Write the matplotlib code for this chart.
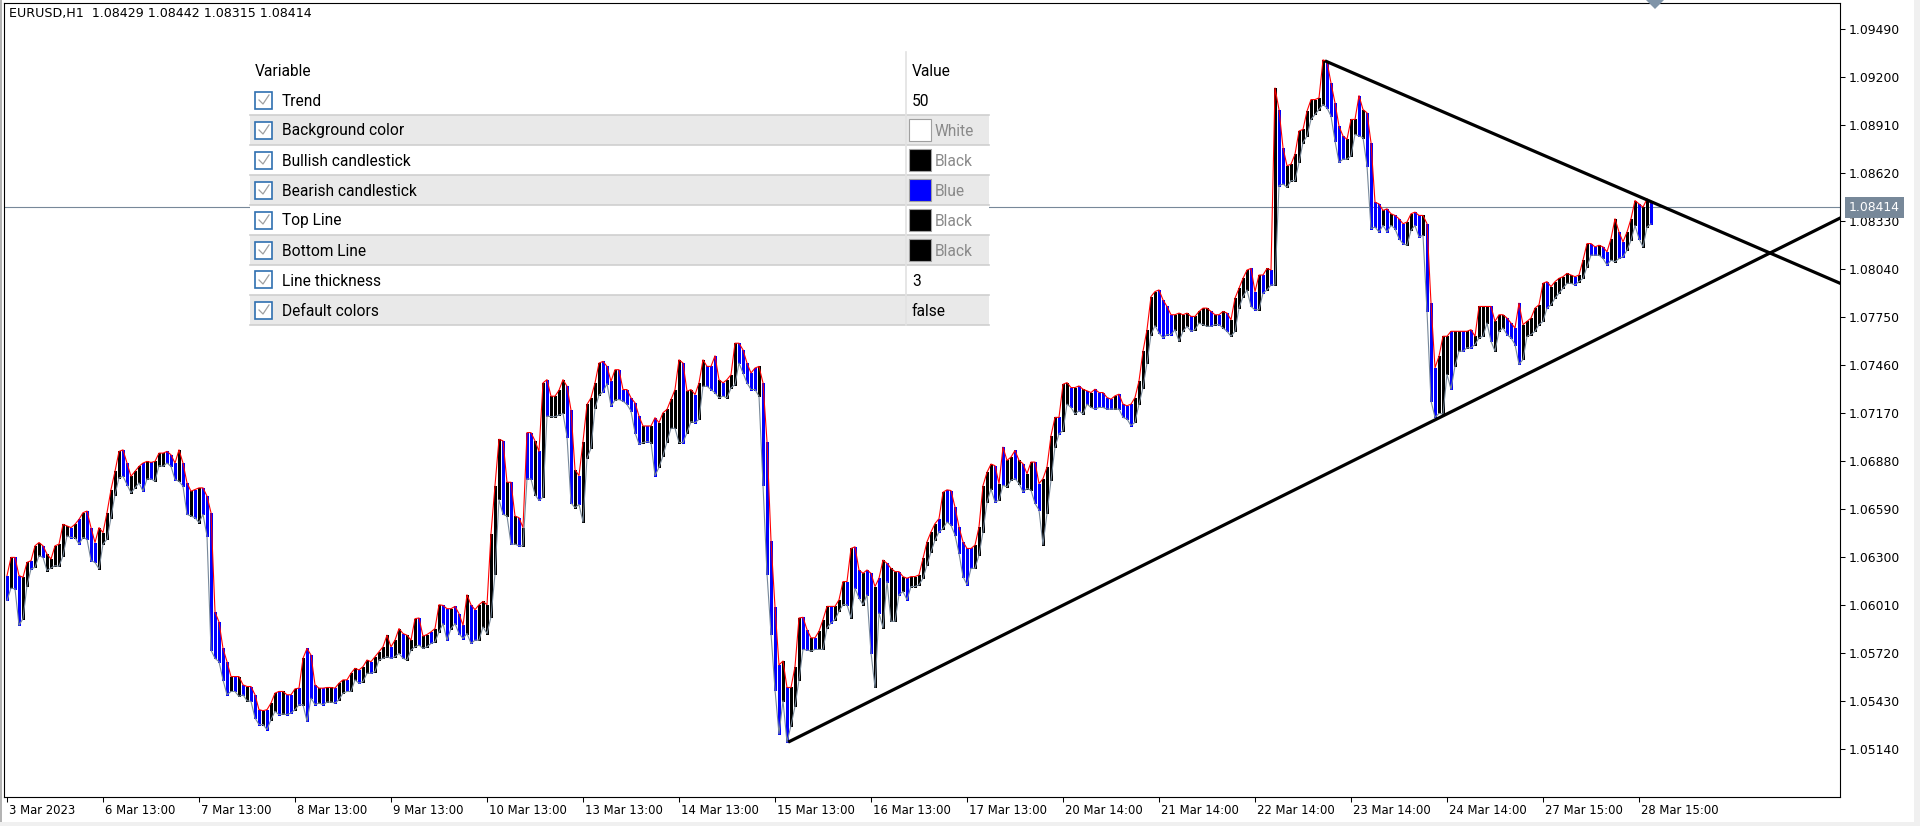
import numpy as np
import matplotlib
matplotlib.use("Agg")
import matplotlib.pyplot as plt
from matplotlib.patches import Rectangle, Polygon
from matplotlib.lines import Line2D
from matplotlib.transforms import ScaledTranslation, blended_transform_factory

# EURUSD H1 bars, values in points above 1.00000 (price = 1 + pts / 100000)
open_pts = [
    6154, 6130, 6230, 6180, 5980, 6160, 6260, 6250, 6356, 6360, 6230, 6260,
    6260, 6250, 6360, 6460, 6470, 6430, 6500, 6430, 6490, 6420, 6304, 6290,
    6396, 6420, 6550, 6690, 6790, 6940, 6860, 6734, 6750, 6770, 6824, 6790,
    6860, 6790, 6860, 6880, 6920, 6910, 6860, 6770, 6860, 6740, 6570, 6610,
    6570, 6710, 6570, 6490, 5860, 5740, 5690, 5580, 5520, 5530, 5490, 5520,
    5506, 5510, 5450, 5340, 5300, 5360, 5330, 5410, 5450, 5366, 5470, 5430,
    5390, 5480, 5420, 5580, 5540, 5490, 5440, 5470, 5460, 5476, 5446, 5450,
    5500, 5540, 5500, 5580, 5600, 5560, 5620, 5650, 5620, 5694, 5700, 5720,
    5750, 5710, 5740, 5760, 5700, 5770, 5784, 5924, 5764, 5804, 5830, 5814,
    5864, 6000, 5954, 5904, 5984, 5954, 5884, 5854, 5964, 5934, 5824, 5894,
    5904, 5954, 6234, 6674, 6884, 6594, 6694, 6434, 6444, 6384, 6934, 6924,
    6814, 6824, 6694, 7314, 7174, 7184, 7210, 7214, 7264, 7084, 6704, 6754,
    6644, 6974, 6994, 7234, 7334, 7454, 7444, 7344, 7300, 7314, 7284, 7274,
    7244, 7214, 7094, 7004, 7074, 7024, 6984, 6904, 7074, 7074, 7114, 7194,
    7074, 7364, 7074, 7184, 7218, 7184, 7334, 7434, 7434, 7334, 7314, 7324,
    7264, 7344, 7374, 7584, 7534, 7444, 7374, 7434, 7344, 7324, 6794, 6274,
    5884, 5584, 5464, 5494, 5344, 5434, 5584, 5874, 5814, 5744, 5784, 5784,
    5824, 5894, 5954, 5944, 5994, 6024, 6084, 6064, 6264, 6184, 6134, 6174,
    6134, 5894, 6134, 5934, 6224, 5934, 5924, 6164, 6154, 6138, 6124, 6134,
    6154, 6194, 6274, 6344, 6414, 6524, 6494, 6634, 6634, 6584, 6478, 6344,
    6304, 6344, 6264, 6344, 6474, 6684, 6734, 6814, 6666, 6886, 6746, 6860,
    6866, 6796, 6856, 6740, 6746, 6866, 6676, 6606, 6666, 6796, 7006, 7126,
    7086, 7276, 7316, 7196, 7326, 7206, 7286, 7226, 7276, 7276, 7276, 7236,
    7226, 7216, 7270, 7206, 7210, 7216, 7126, 7236, 7346, 7496, 7666, 7826,
    7856, 7806, 7776, 7726, 7716, 7746, 7686, 7730, 7736, 7696, 7736, 7716,
    7706, 7756, 7732, 7746, 7706, 7766, 7696, 7696, 7836, 7896, 7946, 8036,
    7856, 7846, 7996, 7966, 8026, 7966, 8826, 8676, 8566, 8596, 8596, 8706,
    8856, 8876, 8966, 9016, 9046, 9056, 9166, 9076, 9006, 8866, 8786, 8746,
    8776, 8876, 8926, 8846, 8966, 8696, 8426, 8406, 8326, 8336, 8326, 8356,
    8336, 8296, 8216, 8296, 8350, 8336, 8256, 8296, 7816, 7296, 7236, 7246,
    7446, 7596, 7516, 7586, 7626, 7622, 7636, 7616, 7666, 7666, 7786, 7796,
    7626, 7706, 7696, 7736, 7696, 7666, 7686, 7526, 7676, 7676, 7686, 7736,
    7746, 7906, 7876, 7886, 7926, 7946, 7976, 7986, 7986, 7986, 8006, 8076,
    8174, 8160, 8146, 8166, 8126, 8116, 8096, 8206, 8186, 8186, 8236, 8326,
    8406, 8246, 8326, 8429,
]
high_pts = [
    6190, 6300, 6300, 6190, 6180, 6270, 6280, 6370, 6390, 6370, 6320, 6290,
    6370, 6380, 6500, 6490, 6480, 6500, 6530, 6570, 6580, 6480, 6390, 6480,
    6450, 6570, 6710, 6820, 6940, 6950, 6870, 6790, 6820, 6850, 6870, 6880,
    6874, 6880, 6930, 6930, 6940, 6920, 6870, 6950, 6870, 6750, 6700, 6710,
    6720, 6720, 6670, 6570, 5970, 5910, 5750, 5670, 5580, 5580, 5580, 5530,
    5520, 5520, 5470, 5380, 5374, 5380, 5420, 5480, 5490, 5490, 5470, 5470,
    5506, 5510, 5690, 5750, 5710, 5530, 5510, 5510, 5514, 5514, 5510, 5540,
    5560, 5560, 5600, 5630, 5620, 5640, 5680, 5670, 5700, 5730, 5760, 5830,
    5760, 5800, 5870, 5840, 5830, 5800, 5930, 5934, 5824, 5834, 5850, 5870,
    6014, 6010, 5990, 5990, 6004, 5960, 5890, 6074, 6014, 5984, 6014, 6034,
    6014, 6444, 6734, 7014, 7004, 6754, 6754, 6550, 6540, 6480, 7054, 7054,
    7004, 6940, 7354, 7374, 7274, 7274, 7310, 7374, 7334, 7190, 6830, 6794,
    7000, 7224, 7264, 7354, 7474, 7484, 7454, 7364, 7434, 7434, 7314, 7314,
    7264, 7234, 7154, 7094, 7094, 7094, 7144, 7114, 7174, 7194, 7254, 7314,
    7494, 7474, 7304, 7314, 7284, 7354, 7494, 7454, 7454, 7518, 7374, 7354,
    7374, 7404, 7594, 7594, 7554, 7474, 7414, 7444, 7454, 7354, 7000, 6400,
    6000, 5650, 5674, 5514, 5514, 5640, 5934, 5938, 5864, 5814, 5814, 5854,
    5924, 6004, 6004, 6004, 6044, 6154, 6154, 6354, 6364, 6224, 6204, 6224,
    6204, 6124, 6174, 6284, 6264, 6234, 6214, 6214, 6184, 6174, 6184, 6184,
    6194, 6294, 6394, 6454, 6504, 6534, 6694, 6708, 6704, 6604, 6484, 6394,
    6354, 6354, 6374, 6484, 6734, 6814, 6864, 6854, 6746, 6966, 6886, 6906,
    6946, 6886, 6866, 6806, 6876, 6876, 6746, 6776, 6846, 7036, 7146, 7146,
    7346, 7356, 7326, 7326, 7336, 7316, 7306, 7296, 7316, 7296, 7296, 7266,
    7256, 7276, 7286, 7226, 7216, 7226, 7266, 7366, 7546, 7676, 7876, 7906,
    7916, 7856, 7816, 7766, 7766, 7776, 7766, 7776, 7756, 7756, 7786, 7806,
    7806, 7786, 7766, 7766, 7786, 7776, 7736, 7866, 7926, 7986, 8036, 8046,
    7906, 8006, 8006, 8046, 8036, 9136, 9006, 8776, 8666, 8676, 8736, 8876,
    8886, 8996, 9066, 9066, 9076, 9306, 9296, 9166, 9046, 8906, 8846, 8826,
    8946, 8946, 9090, 9006, 8986, 8806, 8446, 8436, 8396, 8406, 8376, 8366,
    8346, 8316, 8326, 8376, 8386, 8366, 8366, 8316, 7836, 7446, 7516, 7636,
    7636, 7666, 7666, 7666, 7666, 7666, 7676, 7636, 7816, 7816, 7816, 7816,
    7726, 7766, 7766, 7746, 7716, 7686, 7836, 7706, 7726, 7746, 7806, 7826,
    7956, 7966, 7936, 7966, 7986, 7996, 8016, 8006, 7996, 8006, 8096, 8196,
    8196, 8176, 8186, 8176, 8146, 8226, 8346, 8266, 8206, 8266, 8346, 8456,
    8436, 8416, 8466, 8442,
]
low_pts = [
    6040, 6114, 6110, 5890, 5930, 6130, 6230, 6240, 6310, 6300, 6220, 6236,
    6250, 6246, 6310, 6430, 6420, 6420, 6380, 6420, 6410, 6280, 6270, 6230,
    6380, 6410, 6540, 6680, 6780, 6790, 6740, 6690, 6720, 6750, 6700, 6774,
    6774, 6760, 6854, 6850, 6870, 6850, 6770, 6760, 6730, 6560, 6550, 6540,
    6510, 6560, 6430, 5740, 5690, 5670, 5560, 5470, 5490, 5490, 5460, 5470,
    5434, 5430, 5330, 5290, 5290, 5260, 5320, 5370, 5350, 5354, 5350, 5360,
    5380, 5410, 5410, 5310, 5450, 5410, 5420, 5410, 5426, 5426, 5420, 5440,
    5480, 5490, 5490, 5560, 5540, 5550, 5600, 5600, 5610, 5680, 5690, 5700,
    5690, 5700, 5720, 5690, 5680, 5740, 5760, 5770, 5750, 5760, 5780, 5790,
    5850, 5900, 5800, 5870, 5900, 5840, 5810, 5840, 5780, 5800, 5800, 5880,
    5840, 5940, 6200, 6650, 6560, 6550, 6380, 6380, 6370, 6370, 6774, 6774,
    6680, 6644, 6664, 7154, 7150, 7150, 7160, 7170, 7030, 6630, 6600, 6620,
    6514, 6900, 6960, 7200, 7280, 7300, 7350, 7214, 7250, 7254, 7244, 7224,
    7184, 7054, 6984, 6994, 7000, 6994, 6794, 6844, 6914, 7000, 7080, 7080,
    6994, 6994, 7054, 7120, 7114, 7134, 7334, 7334, 7314, 7294, 7264, 7274,
    7264, 7324, 7344, 7474, 7414, 7354, 7314, 7314, 7274, 6740, 6200, 5840,
    5500, 5234, 5434, 5184, 5284, 5400, 5560, 5744, 5740, 5734, 5744, 5744,
    5744, 5874, 5904, 5924, 5974, 6014, 6014, 5934, 6114, 6054, 6014, 6074,
    5724, 5514, 5964, 5874, 6154, 5914, 5914, 6074, 6094, 6044, 6124, 6124,
    6134, 6174, 6254, 6334, 6404, 6454, 6474, 6514, 6494, 6434, 6324, 6184,
    6134, 6234, 6234, 6314, 6454, 6634, 6714, 6634, 6646, 6736, 6726, 6766,
    6776, 6746, 6696, 6716, 6706, 6626, 6586, 6376, 6566, 6766, 6966, 7046,
    7066, 7226, 7206, 7166, 7186, 7166, 7226, 7206, 7196, 7206, 7206, 7196,
    7196, 7196, 7196, 7146, 7136, 7096, 7116, 7226, 7326, 7476, 7646, 7700,
    7656, 7626, 7646, 7646, 7676, 7606, 7666, 7696, 7666, 7676, 7716, 7706,
    7696, 7696, 7706, 7706, 7686, 7666, 7636, 7666, 7806, 7876, 7916, 7816,
    7796, 7796, 7896, 7916, 7946, 7946, 8546, 8556, 8536, 8576, 8576, 8686,
    8806, 8846, 8946, 8976, 9006, 9036, 9016, 8966, 8816, 8686, 8706, 8706,
    8726, 8856, 8846, 8836, 8666, 8286, 8296, 8266, 8306, 8266, 8306, 8286,
    8226, 8196, 8186, 8276, 8306, 8236, 8246, 7786, 7246, 7146, 7170, 7166,
    7406, 7316, 7456, 7546, 7546, 7566, 7566, 7586, 7626, 7636, 7716, 7606,
    7546, 7666, 7686, 7646, 7626, 7586, 7466, 7496, 7636, 7646, 7666, 7706,
    7726, 7806, 7826, 7866, 7896, 7926, 7956, 7956, 7946, 7966, 7986, 8056,
    8126, 8126, 8126, 8106, 8066, 8096, 8086, 8106, 8116, 8156, 8216, 8306,
    8226, 8176, 8296, 8315,
]
close_pts = [
    6130, 6230, 6140, 5980, 6170, 6260, 6246, 6360, 6366, 6330, 6270, 6262,
    6274, 6370, 6460, 6470, 6430, 6490, 6440, 6490, 6420, 6300, 6286, 6400,
    6430, 6560, 6690, 6800, 6920, 6850, 6790, 6770, 6780, 6840, 6814, 6860,
    6790, 6880, 6880, 6914, 6880, 6870, 6790, 6860, 6740, 6570, 6610, 6570,
    6700, 6570, 6490, 5860, 5730, 5680, 5580, 5520, 5534, 5500, 5520, 5490,
    5514, 5450, 5340, 5300, 5360, 5310, 5410, 5470, 5360, 5374, 5360, 5380,
    5490, 5420, 5630, 5490, 5460, 5460, 5454, 5430, 5480, 5484, 5434, 5500,
    5540, 5500, 5580, 5600, 5560, 5620, 5650, 5620, 5690, 5724, 5740, 5760,
    5710, 5760, 5760, 5700, 5760, 5784, 5914, 5824, 5804, 5824, 5820, 5864,
    6004, 5954, 5904, 5984, 5954, 5874, 5844, 5964, 5864, 5814, 5894, 5914,
    5964, 6234, 6674, 6884, 6594, 6694, 6434, 6444, 6374, 6394, 6814, 6814,
    6824, 6694, 7314, 7174, 7184, 7214, 7218, 7264, 7074, 6704, 6754, 6644,
    6974, 7004, 7234, 7334, 7444, 7384, 7404, 7294, 7310, 7284, 7274, 7234,
    7194, 7094, 7004, 7034, 7024, 7084, 6904, 7074, 7124, 7134, 7214, 7224,
    7364, 7074, 7184, 7218, 7184, 7334, 7434, 7424, 7334, 7314, 7324, 7294,
    7344, 7374, 7574, 7494, 7444, 7374, 7354, 7344, 7384, 6794, 6274, 5884,
    5584, 5474, 5494, 5344, 5434, 5584, 5874, 5814, 5774, 5774, 5764, 5834,
    5914, 5954, 5934, 5998, 6034, 6084, 6058, 6264, 6134, 6134, 6194, 6144,
    5884, 6084, 6014, 6284, 6194, 6214, 6134, 6134, 6174, 6124, 6134, 6164,
    6194, 6274, 6354, 6414, 6504, 6494, 6634, 6534, 6524, 6484, 6344, 6244,
    6264, 6264, 6354, 6474, 6684, 6734, 6814, 6654, 6716, 6756, 6866, 6870,
    6796, 6856, 6746, 6756, 6866, 6666, 6606, 6756, 6826, 7016, 7126, 7096,
    7316, 7316, 7256, 7306, 7206, 7296, 7276, 7286, 7216, 7226, 7226, 7216,
    7216, 7266, 7206, 7166, 7156, 7116, 7236, 7346, 7506, 7666, 7846, 7856,
    7796, 7766, 7726, 7706, 7736, 7756, 7736, 7736, 7696, 7736, 7766, 7756,
    7766, 7716, 7740, 7726, 7766, 7696, 7726, 7846, 7906, 7956, 8006, 7846,
    7846, 7986, 7946, 8036, 7966, 8826, 8666, 8606, 8596, 8606, 8716, 8856,
    8876, 8976, 9026, 9066, 9066, 9166, 9066, 9006, 8866, 8786, 8766, 8806,
    8936, 8926, 8906, 8966, 8696, 8426, 8386, 8326, 8336, 8326, 8366, 8326,
    8266, 8216, 8306, 8356, 8342, 8256, 8296, 7816, 7286, 7226, 7496, 7516,
    7586, 7516, 7626, 7626, 7586, 7630, 7606, 7624, 7716, 7796, 7796, 7626,
    7706, 7736, 7726, 7686, 7656, 7636, 7526, 7626, 7684, 7696, 7736, 7816,
    7856, 7846, 7916, 7936, 7956, 7976, 7986, 7994, 7976, 7996, 8076, 8176,
    8166, 8152, 8170, 8136, 8086, 8216, 8216, 8126, 8136, 8236, 8326, 8406,
    8256, 8336, 8456, 8414,
]

# x axis labels, one every 24 bars
date_tick_bars = [0, 24, 48, 72, 96, 120, 144, 168, 192, 216, 240, 264, 288, 312, 336, 360, 384, 408]
date_labels = ["3 Mar 2023", "6 Mar 13:00", "7 Mar 13:00", "8 Mar 13:00", "9 Mar 13:00",
               "10 Mar 13:00", "13 Mar 13:00", "14 Mar 13:00", "15 Mar 13:00", "16 Mar 13:00",
               "17 Mar 13:00", "20 Mar 14:00", "21 Mar 14:00", "22 Mar 14:00", "23 Mar 14:00",
               "24 Mar 14:00", "27 Mar 15:00", "28 Mar 15:00"]
price_ticks = [1.05140, 1.05430, 1.05720, 1.06010, 1.06300, 1.06590, 1.06880, 1.07170,
               1.07460, 1.07750, 1.08040, 1.08330, 1.08620, 1.08910, 1.09200, 1.09490]
bid_price = 1.08414
title = "EURUSD,H1  1.08429 1.08442 1.08315 1.08414"

# trend lines: two anchor points (bar index, price), drawn as rays
top_line_bars = [329.5, 413.25]
top_line_prices = [1.09300, 1.08426]
bottom_line_bars = [195.3, 412.25]
bottom_line_prices = [1.05184, 1.07796]

# inputs table
variables = ["Trend", "Background color", "Bullish candlestick", "Bearish candlestick",
             "Top Line", "Bottom Line", "Line thickness", "Default colors"]
values = ["50", "White", "Black", "Blue", "Black", "Black", "3", "false"]
swatches = [None, "#ffffff", "#000000", "#0000ff", "#000000", "#000000", None, None]

W, H = 1920, 826
fig = plt.figure(figsize=(W / 100, H / 100), dpi=100)
fig.patch.set_facecolor("white")


def fx(x):
    return x / W


def fy(y):
    return 1 - y / H


ax = fig.add_axes([fx(4), fy(797), fx(1840) - fx(4), fy(3) - fy(797)])

o = 1 + np.array(open_pts) / 1e5
h = 1 + np.array(high_pts) / 1e5
l = 1 + np.array(low_pts) / 1e5
c = 1 + np.array(close_pts) / 1e5
h = np.maximum(h, np.maximum(o, c))
l = np.minimum(l, np.minimum(o, c))
idx = np.arange(len(c))

cols = np.where(c >= o, "#000000", "#0000ff")
ax.vlines(idx, l, h, colors=cols, linewidth=0.75, antialiased=False, zorder=2)
body_lo = np.minimum(o, c)
body_h = np.maximum(np.abs(c - o), 0.00004)
ax.bar(idx, body_h, bottom=body_lo, width=0.75, color=cols, linewidth=0,
       antialiased=False, zorder=3)
ax.plot(idx, h, color="#ff0000", lw=0.8, zorder=4)
ax.plot(idx, l, color="#778899", lw=0.8, zorder=4)

ax.axhline(bid_price, color="#778899", lw=0.8, zorder=1)

xmin, xmax = -0.75, 458.25
for bars, prices in [(top_line_bars, top_line_prices), (bottom_line_bars, bottom_line_prices)]:
    slope = (prices[1] - prices[0]) / (bars[1] - bars[0])
    x_end = xmax + 5
    ax.plot([bars[0], x_end], [prices[0], prices[0] + slope * (x_end - bars[0])],
            color="black", lw=2.3, solid_capstyle="butt", zorder=5)

ax.set_xlim(xmin, xmax)
ax.set_ylim(1.048524, 1.096495)

for sp in ax.spines.values():
    sp.set_color("black")
    sp.set_linewidth(0.8)

ax.yaxis.tick_right()
ax.set_yticks(price_ticks)
ax.set_yticklabels(["%.5f" % p for p in price_ticks])
ax.tick_params(axis="y", direction="out", length=3.5, width=0.75, pad=3,
               labelsize=8.9, colors="black")
ax.set_xticks(date_tick_bars)
ax.set_xticklabels(date_labels, ha="left")
ax.tick_params(axis="x", direction="out", length=3.5, width=0.75, pad=1.5,
               labelsize=8.4, colors="black")
for lbl in ax.get_xticklabels():
    lbl.set_transform(lbl.get_transform() + ScaledTranslation(2 / 100, 0, fig.dpi_scale_trans))

# bid price label on the price scale
blend = blended_transform_factory(ax.transAxes, ax.transData)
ax.text(1.0, bid_price, "%.5f" % bid_price, transform=blend + ScaledTranslation(9 / 100, 0, fig.dpi_scale_trans),
        ha="left", va="center", fontsize=8.9, color="white", clip_on=False, zorder=6,
        bbox=dict(boxstyle="square,pad=0.3", fc="#778899", ec="none"))

fig.text(fx(9), fy(14), title, fontsize=9.1, ha="left", va="center", color="black")

# window chrome
fig.add_artist(Rectangle((0, 0), fx(2), 1, transform=fig.transFigure, fc="#b4b4b4", ec="none"))
fig.add_artist(Rectangle((0, 0), 1, 4 / H, transform=fig.transFigure, fc="#f0f0f0", ec="none"))
fig.add_artist(Rectangle((fx(1914), 0), 6 / W, 1, transform=fig.transFigure, fc="#f0f0f0", ec="none"))
fig.add_artist(Polygon([(fx(1646), fy(0)), (fx(1664), fy(0)), (fx(1655), fy(9))],
                       closed=True, transform=fig.transFigure, fc="#8094a8", ec="none"))

# inputs table overlay
tf = fig.transFigure
t_left, t_right, t_div = 250, 989, 906
t_top, head_bot, row_h = 52, 85, 30
t_bot = head_bot + row_h * len(variables)
tfont = "Roboto"
fs = 11.2
fig.add_artist(Rectangle((fx(t_left), fy(t_bot)), (t_right - t_left) / W, (t_bot - t_top) / H,
                         transform=tf, fc="white", ec="none", zorder=10))
fig.text(fx(255), fy(t_top + 19), "Variable", fontsize=fs, family=tfont, ha="left", va="center", zorder=12)
fig.text(fx(912), fy(t_top + 19), "Value", fontsize=fs, family=tfont, ha="left", va="center", zorder=12)
for k, (name, val, sw) in enumerate(zip(variables, values, swatches)):
    top = head_bot + k * row_h
    mid = top + row_h / 2
    tmid = mid + 1
    if k % 2 == 1:
        fig.add_artist(Rectangle((fx(t_left), fy(top + row_h)), (t_right - t_left) / W, row_h / H,
                                 transform=tf, fc="#e9e9e9", ec="none", zorder=10))
    fig.add_artist(Line2D([fx(t_left), fx(t_right)], [fy(top + row_h), fy(top + row_h)],
                          transform=tf, color="#cfcfcf", lw=1.2, zorder=11))
    # checkbox
    fig.add_artist(Rectangle((fx(255), fy(mid + 8.5)), 17 / W, 17 / H, transform=tf,
                             fc="white", ec="#2f6fb0", lw=1.2, zorder=12))
    fig.add_artist(Line2D([fx(259), fx(263), fx(269)], [fy(mid), fy(mid + 4), fy(mid - 5)],
                          transform=tf, color="#a0a0a0", lw=0.9, zorder=13))
    fig.text(fx(282), fy(tmid), name, fontsize=fs, family=tfont, ha="left", va="center",
             color="black", zorder=12)
    if sw is None:
        fig.text(fx(912), fy(tmid), val, fontsize=fs, family=tfont, ha="left", va="center",
                 color="black", zorder=12)
    else:
        fig.add_artist(Rectangle((fx(909), fy(mid + 11)), 22 / W, 22 / H, transform=tf,
                                 fc=sw, ec="#a0a0a0", lw=0.8, zorder=12))
        fig.text(fx(935), fy(tmid), val, fontsize=fs, family=tfont, ha="left", va="center",
                 color="#8a8a8a", zorder=12)
fig.add_artist(Line2D([fx(t_div), fx(t_div)], [fy(t_top), fy(t_bot)], transform=tf,
                      color="#e2e2e2", lw=1.2, zorder=11))

fig.savefig("out.png", dpi=100, facecolor="white")
